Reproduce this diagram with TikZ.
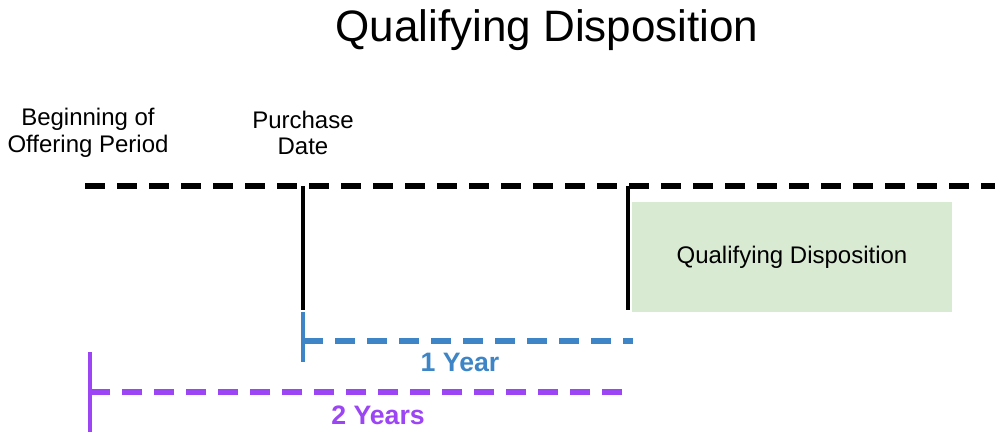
\documentclass[tikz,border=0pt]{standalone}
\usepackage{fontspec}
\setmainfont{Liberation Sans}
\definecolor{qgreen}{HTML}{D9EAD3}
\definecolor{qblue}{HTML}{3D85C6}
\definecolor{qpurple}{HTML}{9B45F5}
\begin{document}
\begin{tikzpicture}[x=0.75pt,y=-0.75pt,
  dashline/.style={line width=3.8pt,dash pattern=on 15pt off 9pt},
  solidline/.style={line width=3pt},
  lbl/.style={font=\fontsize{18}{20}\selectfont,align=center}]
\useasboundingbox (0,0) rectangle (1000,447);
\node (title) at (547,30) {\fontsize{33}{40}\selectfont Qualifying Disposition};
\node[lbl] (begin) at (88,133) {Beginning of\\Offering Period};
\node[lbl] (purch) at (303,133) {Purchase\\Date};
\coordinate (dl) at (85,186); \coordinate (dr) at (995,186);
\draw[dashline] (dl) -- (dr);
\coordinate (p1) at (303,186); \coordinate (p2) at (303,310);
\draw[solidline] (p1) -- (p2);
\coordinate (q1) at (628,186); \coordinate (q2) at (628,310);
\draw[solidline] (q1) -- (q2);
\node[fill=qgreen,minimum width=240pt,minimum height=82.5pt,inner sep=0pt,font=\fontsize{18}{20}\selectfont] (qd) at (792,257) {Qualifying Disposition};
\coordinate (b1) at (303,312); \coordinate (b2) at (303,362);
\coordinate (b3) at (303,341); \coordinate (b4) at (633,341);
\draw[qblue,solidline] (b1) -- (b2);
\draw[qblue,dashline] (b3) -- (b4);
\node[qblue,font=\fontsize{20}{24}\selectfont\bfseries] (y1) at (460,362) {1 Year};
\coordinate (c1) at (90,352); \coordinate (c2) at (90,432);
\coordinate (c3) at (90,392); \coordinate (c4) at (633,392);
\draw[qpurple,solidline] (c1) -- (c2);
\draw[qpurple,dashline] (c3) -- (c4);
\node[qpurple,font=\fontsize{20}{24}\selectfont\bfseries] (y2) at (378,415) {2 Years};
\end{tikzpicture}
\end{document}
